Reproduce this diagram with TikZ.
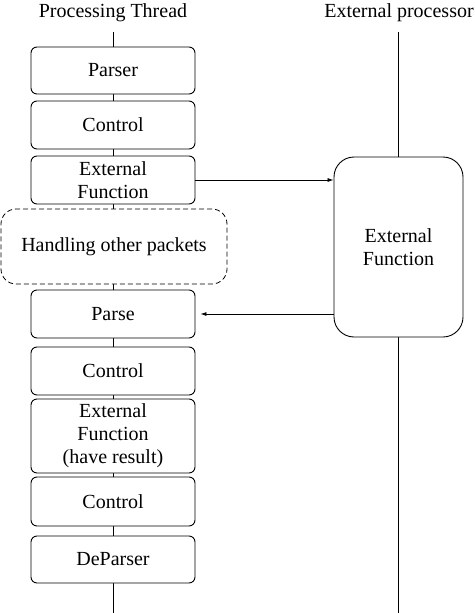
\documentclass[tikz,border=0pt]{standalone}
\usepackage{fontspec}
\setmainfont{Liberation Serif}
\usetikzlibrary{arrows.meta}
\begin{document}
\begin{tikzpicture}[x=1pt,y=-1pt,
  every node/.style={font=\fontsize{20}{23}\selectfont},
  stepbox/.style={draw, line width=0.9pt, fill=white, rounded corners=6pt, minimum width=164pt, inner sep=0pt, align=center},
  waitbox/.style={draw, line width=0.8pt, dash pattern=on 5pt off 3pt, fill=white, rounded corners=15pt, minimum width=226pt, minimum height=75pt, inner sep=0pt, align=center},
  extbox/.style={draw, line width=0.9pt, fill=white, rounded corners=20pt, minimum width=129pt, minimum height=180pt, inner sep=0pt, align=center},
  title/.style={anchor=base, inner sep=0pt},
  life/.style={line width=0.7pt},
  msg/.style={line width=0.8pt, -{Latex[length=6pt,width=4pt]}}
]
\useasboundingbox (0,0) rectangle (474,613);
\node[title] (lt) at (113,17) {Processing Thread};
\node[title] (rt) at (399,17) {External processor};
\coordinate (ltop) at (113,32);
\coordinate (lbot) at (113,613);
\coordinate (rtop) at (398.5,32);
\coordinate (rbot) at (398.5,613);
\draw[life] (ltop) -- (lbot);
\draw[life] (rtop) -- (rbot);
\node[stepbox, minimum height=47pt] (parser) at (113,70.5) {Parser};
\node[stepbox, minimum height=48pt] (ctrl1) at (113,125) {Control};
\node[stepbox, minimum height=48pt] (ext1) at (113,180) {External\\Function};
\node[waitbox] (wait) at (114,246.5) {Handling other packets};
\node[stepbox, minimum height=48pt] (parse) at (113,314) {Parse};
\node[stepbox, minimum height=48pt] (ctrl2) at (113,371) {Control};
\node[stepbox, minimum height=74pt] (ext2) at (113,436) {External\\Function\\(have result)};
\node[stepbox, minimum height=49pt] (ctrl3) at (113,501.5) {Control};
\node[stepbox, minimum height=47pt] (deparser) at (113,559.5) {DeParser};
\node[extbox] (rbox) at (398.5,247) {External\\Function};
\draw[msg] (ext1.east) -- (ext1.east -| rbox.west);
\draw[msg, shorten >=5pt] (parse.east -| rbox.west) -- (parse.east);
\end{tikzpicture}
\end{document}
